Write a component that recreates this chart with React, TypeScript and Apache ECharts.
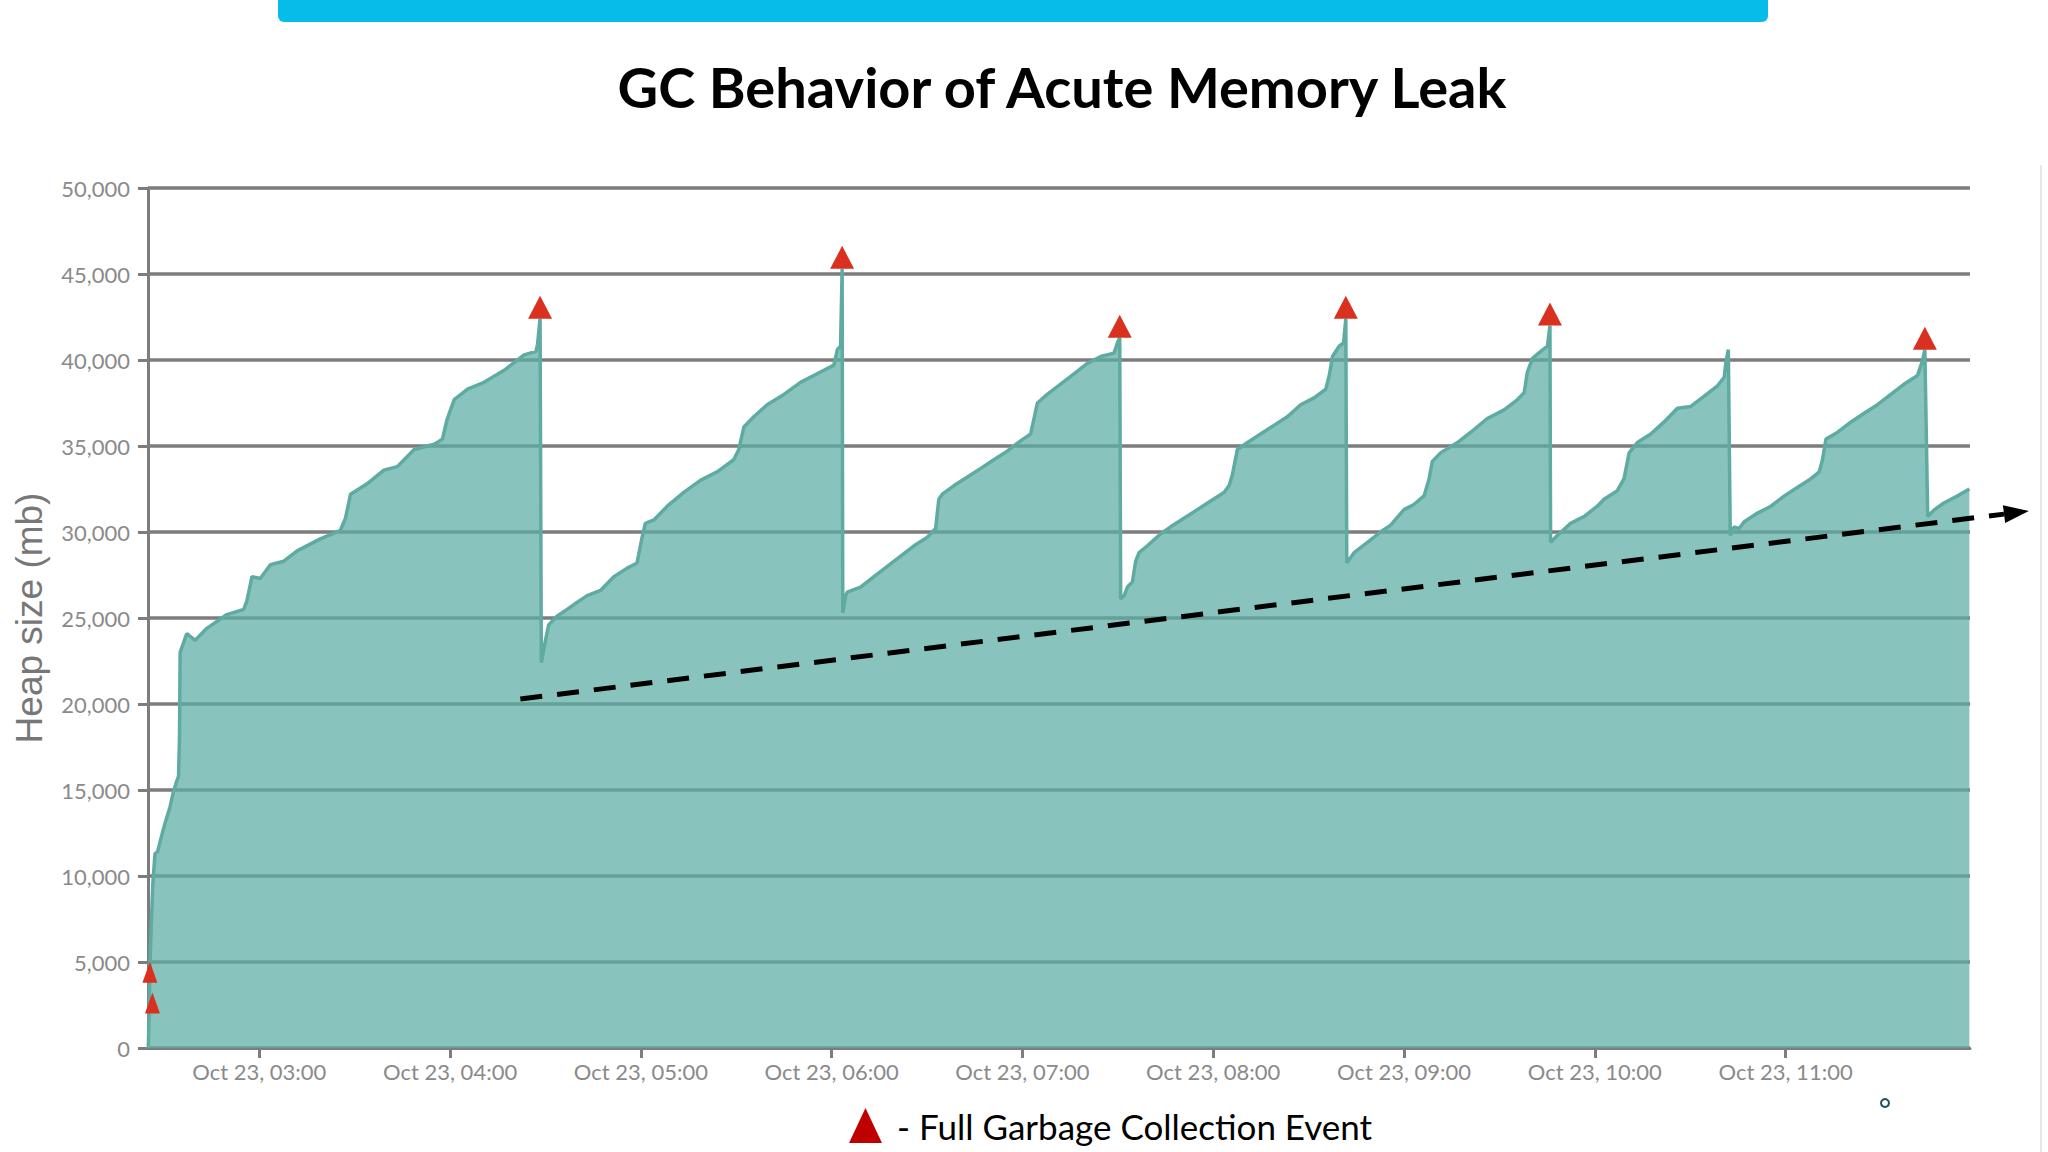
import React, { useEffect, useRef } from 'react';
import * as echarts from 'echarts';

const TITLE = 'GC Behavior of Acute Memory Leak';
const Y_NAME = 'Heap size (mb)';
const LEGEND_TEXT = '- Full Garbage Collection Event';

// x values are minutes after midnight on Oct 23
const X_MIN = 145;
const X_MAX = 718;
const tickMinutes = [180, 240, 300, 360, 420, 480, 540, 600, 660];
const tickLabels = [
  'Oct 23, 03:00', 'Oct 23, 04:00', 'Oct 23, 05:00', 'Oct 23, 06:00', 'Oct 23, 07:00',
  'Oct 23, 08:00', 'Oct 23, 09:00', 'Oct 23, 10:00', 'Oct 23, 11:00',
];

const sampleMinutes = [
  145.1, 145.4, 145.6, 146.0, 146.5, 147.2, 148.0, 148.8, 150.4, 151.9, 153.0, 154.0, 154.6, 154.9, 155.1,
  157.2, 159.8, 163.5, 169.8, 175.1, 176.1, 177.7, 180.3, 183.5, 187.7, 191.9, 199.2, 205.5, 207.1, 208.7,
  213.9, 219.2, 223.4, 228.7, 235.0, 237.6, 239.0, 241.3, 245.5, 250.7, 257.0, 263.3, 267.0, 267.5, 268.3,
  268.7, 270.0, 271.0, 273.6, 276.8, 279.9, 283.1, 287.3, 291.5, 295.7, 298.8, 300.4, 301.4, 304.1, 308.3,
  313.5, 318.7, 324.0, 329.2, 330.8, 332.4, 335.5, 339.7, 345.0, 350.2, 356.5, 360.7, 361.8, 362.8, 363.3,
  363.5, 364.4, 364.9, 369.1, 373.3, 377.5, 381.7, 385.9, 390.1, 392.7, 393.7, 394.8, 398.5, 402.7, 406.9,
  411.0, 415.2, 419.4, 422.6, 424.7, 427.8, 432.0, 436.2, 440.4, 444.6, 448.8, 449.9, 450.6,
  450.9, 452.0, 453.0, 454.6, 455.6, 456.7, 459.3, 463.5, 466.6, 470.8, 475.0, 479.2, 483.4, 485.0, 486.0,
  487.6, 490.8, 494.9, 499.1, 503.3, 507.5, 511.7, 515.4, 516.5, 517.5, 519.6, 521.0, 521.7,
  522.0, 524.3, 528.5, 532.6, 535.8, 540.0, 543.1, 546.3, 547.9, 548.9, 551.5, 556.8, 561.0, 566.2, 571.5,
  575.7, 577.8, 578.8, 580.4, 583.0, 585.1, 585.9,
  586.1, 588.2, 592.4, 596.6, 600.8, 602.9, 607.1, 609.2, 610.8, 613.4, 617.6, 621.8, 626.0, 630.2, 634.4,
  638.6, 640.7, 641.2, 642.0,
  642.6, 643.8, 645.4, 647.0, 651.2, 655.4, 659.6, 663.8, 668.0, 670.6, 671.6, 672.7, 676.4, 680.6, 684.7,
  688.9, 693.1, 697.3, 701.5, 702.6, 703.1, 703.8,
  704.7, 706.8, 709.9, 714.1, 717.8,
];

const heapValues = [
  0, 2500, 4800, 7000, 9500, 11300, 11400, 12000, 13100, 14000, 14900, 15500, 15800, 18000, 23000,
  24100, 23700, 24400, 25200, 25500, 26000, 27400, 27300, 28100, 28300, 28900, 29600, 30100, 30800, 32200,
  32800, 33600, 33800, 34800, 35100, 35400, 36500, 37700, 38300, 38700, 39400, 40300, 40500, 40900, 42400,
  22400, 23700, 24600, 25100, 25500, 25900, 26300, 26600, 27400, 27900, 28200, 29700, 30500, 30700, 31500,
  32300, 33000, 33500, 34200, 34800, 36100, 36700, 37400, 38000, 38700, 39300, 39700, 40600, 40800, 45300,
  25300, 26300, 26500, 26800, 27400, 28000, 28600, 29200, 29700, 30200, 31900, 32200, 32700, 33200, 33700,
  34200, 34700, 35300, 35700, 37500, 38000, 38600, 39200, 39800, 40200, 40400, 41000, 41300,
  26100, 26300, 26800, 27100, 28300, 28800, 29200, 29900, 30300, 30800, 31300, 31800, 32300, 32700, 33300,
  34800, 35200, 35700, 36200, 36700, 37400, 37800, 38300, 39100, 40200, 40800, 41000, 42400,
  28200, 28800, 29400, 30000, 30400, 31300, 31600, 32100, 33100, 34100, 34600, 35200, 35800, 36600, 37100,
  37700, 38100, 39300, 40100, 40500, 40800, 42000,
  29400, 29800, 30500, 30900, 31500, 31900, 32400, 33100, 34600, 35200, 35700, 36400, 37200, 37300, 37900,
  38500, 39000, 39800, 40600,
  29800, 30300, 30200, 30600, 31100, 31500, 32100, 32600, 33100, 33500, 34200, 35400, 35800, 36400, 36900,
  37400, 38000, 38600, 39100, 39700, 40000, 40600,
  30900, 31300, 31700, 32100, 32500,
];

// Full GC events (red triangles sit on top of these points)
const gcMinutes = [268.3, 363.3, 450.6, 521.7, 585.9, 703.8];
const gcValues = [42400, 45300, 41300, 42400, 42000, 40600];
const earlyGcMinutes = [145.6, 146.4];
const earlyGcValues = [3800, 2000];

// Dashed trend arrow (data units, end point lies beyond the axis)
const trendMinutes = [262.1, 736.5];
const trendValues = [20290, 31220];

const GRID_GRAY = '#7d7d7d';
const LABEL_GRAY = '#8a8a8a';

export default function App() {
  const ref = useRef<HTMLDivElement>(null);

  useEffect(() => {
    if (!ref.current) return;
    const chart = echarts.init(ref.current, undefined, { renderer: 'svg' });

    const option: any = {
      animation: false,
      backgroundColor: '#ffffff',
      grid: { left: 148, right: 78, top: 188, bottom: 104, containLabel: false },
      xAxis: {
        type: 'value',
        min: X_MIN,
        max: X_MAX,
        axisLine: { show: true, onZero: false, lineStyle: { color: GRID_GRAY, width: 3 } },
        axisTick: { show: true, customValues: tickMinutes, length: 10, lineStyle: { color: GRID_GRAY, width: 3 } },
        axisLabel: {
          customValues: tickMinutes,
          formatter: (v: number) => {
            const i = tickMinutes.indexOf(Math.round(v));
            return i >= 0 ? tickLabels[i] : '';
          },
          color: LABEL_GRAY,
          fontFamily: 'Lato',
          fontSize: 22,
          margin: 12,
        },
        splitLine: { show: false },
      },
      yAxis: {
        type: 'value',
        min: 0,
        max: 50000,
        interval: 5000,
        name: Y_NAME,
        nameLocation: 'middle',
        nameGap: 100,
        nameRotate: 90,
        nameTextStyle: { color: '#777777', fontFamily: 'Liberation Sans', fontSize: 37 },
        axisLine: { show: true, onZero: false, lineStyle: { color: GRID_GRAY, width: 3 } },
        axisTick: { show: true, length: 10, lineStyle: { color: GRID_GRAY, width: 3 } },
        axisLabel: { color: LABEL_GRAY, fontFamily: 'Lato', fontSize: 22, margin: 18 },
        splitLine: { show: true, lineStyle: { color: GRID_GRAY, width: 3.5 } },
      },
      series: [
        {
          type: 'line',
          data: sampleMinutes.map((m, i) => [m, heapValues[i]]),
          showSymbol: false,
          symbol: 'none',
          lineStyle: { color: '#5faba1', width: 3.5 },
          areaStyle: { color: 'rgb(92,174,165)', opacity: 0.73 },
          z: 2,
        },
        {
          type: 'scatter',
          data: gcMinutes.map((m, i) => [m, gcValues[i]]),
          symbol: 'triangle',
          symbolSize: [24, 23],
          symbolOffset: [0, '-50%'],
          itemStyle: { color: '#d9301f', opacity: 1 },
          z: 6,
        },
        {
          type: 'scatter',
          data: earlyGcMinutes.map((m, i) => [m, earlyGcValues[i]]),
          symbol: 'triangle',
          symbolSize: [15, 21],
          symbolOffset: [0, '-50%'],
          itemStyle: { color: '#d9301f', opacity: 1 },
          z: 6,
        },
      ],
    };
    chart.setOption(option);

    const p0 = chart.convertToPixel({ gridIndex: 0 }, [trendMinutes[0], trendValues[0]]) as number[];
    const p1 = chart.convertToPixel({ gridIndex: 0 }, [trendMinutes[1], trendValues[1]]) as number[];
    const dx = p1[0] - p0[0];
    const dy = p1[1] - p0[1];
    const len = Math.sqrt(dx * dx + dy * dy);
    const ux = dx / len;
    const uy = dy / len;
    const nx = -uy;
    const ny = ux;
    const headLen = 25;
    const headHalf = 9;
    const bx = p1[0] - ux * headLen;
    const by = p1[1] - uy * headLen;

    chart.setOption({
      graphic: [
        {
          type: 'rect',
          shape: { x: 278, y: -10, width: 1490, height: 32, r: 6 },
          style: { fill: '#06bce9' },
          z: 10,
        },
        {
          type: 'text',
          x: 1062,
          y: 86,
          style: {
            text: TITLE,
            fill: '#000000',
            font: 'bold 56px Lato',
            align: 'center',
            verticalAlign: 'middle',
          },
          z: 10,
        },
        {
          type: 'line',
          shape: { x1: p0[0], y1: p0[1], x2: bx, y2: by },
          style: { stroke: '#000000', lineWidth: 5, lineDash: [22, 15] },
          z: 20,
        },
        {
          type: 'polygon',
          shape: {
            points: [
              [p1[0], p1[1]],
              [bx + nx * headHalf, by + ny * headHalf],
              [bx - nx * headHalf, by - ny * headHalf],
            ],
          },
          style: { fill: '#000000' },
          z: 20,
        },
        {
          type: 'polygon',
          shape: { points: [[849, 1143], [882, 1143], [865.5, 1108]] },
          style: { fill: '#c00000' },
          z: 10,
        },
        {
          type: 'text',
          x: 897,
          y: 1126,
          style: {
            text: LEGEND_TEXT,
            fill: '#000000',
            font: '35px Lato',
            align: 'left',
            verticalAlign: 'middle',
          },
          z: 10,
        },
        {
          type: 'circle',
          shape: { cx: 1885, cy: 1103, r: 4 },
          style: { fill: 'none', stroke: '#1d5560', lineWidth: 2 },
          z: 10,
        },
        {
          type: 'line',
          shape: { x1: 2041, y1: 165, x2: 2041, y2: 1152 },
          style: { stroke: '#e8e8e8', lineWidth: 2 },
          z: 1,
        },
      ],
    });

    return () => {
      chart.dispose();
    };
  }, []);

  return (
    <div
      ref={ref}
      style={{ position: 'absolute', left: 0, top: 0, width: 2048, height: 1152 }}
    />
  );
}
